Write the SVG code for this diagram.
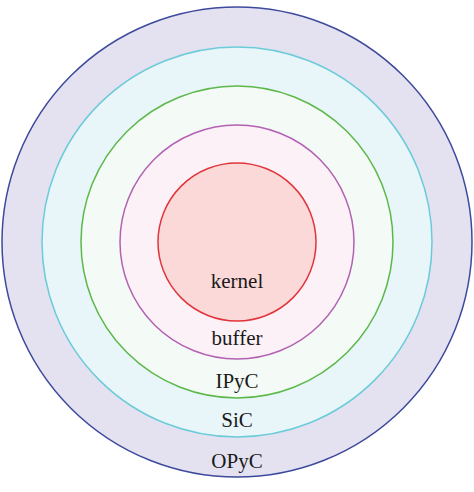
<svg xmlns="http://www.w3.org/2000/svg" width="474" height="492" viewBox="0 0 474 492">
<style>
.ring{stroke-width:1.5}
.lbl{font-family:"Liberation Serif","Times New Roman",serif;font-size:21px;fill:#1a1a1a;text-anchor:middle}
</style>
<rect width="474" height="492" fill="#ffffff"/>
<g id="opyc"><circle class="ring" cx="237" cy="242" r="235" fill="#e4e2f1" stroke="#3d4a9c"/></g>
<g id="sic"><circle class="ring" cx="237" cy="242" r="195" fill="#e8f5f9" stroke="#6ccbd8"/></g>
<g id="ipyc"><circle class="ring" cx="237" cy="242" r="156" fill="#f4faf5" stroke="#5cb84a"/></g>
<g id="buffer"><circle class="ring" cx="237" cy="242" r="117" fill="#fdf1f8" stroke="#b261b3"/></g>
<g id="kernel"><circle class="ring" cx="237" cy="242" r="79" fill="#fcd9d9" stroke="#e0353a"/></g>
<g id="labels">
<text class="lbl" x="237" y="288">kernel</text>
<text class="lbl" x="237" y="345">buffer</text>
<text class="lbl" x="237" y="388">IPyC</text>
<text class="lbl" x="237" y="427">SiC</text>
<text class="lbl" x="237" y="468">OPyC</text>
</g>
<g id="connectors"></g>
</svg>
